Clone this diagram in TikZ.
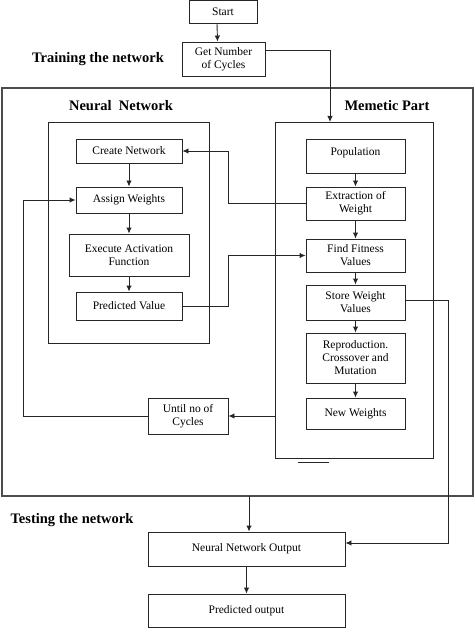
\documentclass[tikz,border=0pt]{standalone}
\usepackage{fontspec}
\setmainfont{Liberation Serif}
\usetikzlibrary{arrows.meta,calc}
\begin{document}
\begin{tikzpicture}[x=1pt,y=-1pt,
  box/.style={draw=black!85,line width=0.9pt,inner sep=0pt,align=center,font=\fontsize{11.5}{13}\selectfont},
  hdr/.style={font=\fontsize{14.5}{16}\bfseries\selectfont},
  arr/.style={draw=black!85,line width=0.9pt,-{Latex[length=6pt,width=5.5pt]}},
  ln/.style={draw=black!85,line width=0.9pt}]
\useasboundingbox (0,0) rectangle (474,628);
% containers
\node[draw=black!70,line width=1.6pt,minimum width=471pt,minimum height=408pt,inner sep=0pt] (outer) at (237.5,292) {};
\node[draw=black!85,line width=0.9pt,minimum width=161pt,minimum height=221pt,inner sep=0pt] (nn) at (128.5,232.5) {};
\node[draw=black!85,line width=0.9pt,minimum width=158pt,minimum height=336pt,inner sep=0pt] (mem) at (354,290) {};
% headers
\node[hdr] (ttn) at (98,59) {Training the network};
\node[hdr] (nnh) at (121,106) {Neural~ Network};
\node[hdr] (mph) at (387,106) {Memetic Part};
\node[hdr] (tst) at (72,520) {Testing the network};
% top
\node[box,minimum width=68pt,minimum height=23pt] (start) at (223,11.5) {Start};
\node[box,minimum width=83pt,minimum height=34pt] (gn) at (223.5,59) {Get Number\\of Cycles};
% neural network
\node[box,minimum width=106pt,minimum height=24pt] (cn) at (129,151) {Create Network};
\node[box,minimum width=106pt,minimum height=26pt] (aw) at (129,200) {Assign Weights};
\node[box,minimum width=120pt,minimum height=42pt] (ea) at (129,255) {Execute Activation\\Function};
\node[box,minimum width=106pt,minimum height=28pt] (pv) at (129,306) {Predicted Value};
% memetic
\node[box,minimum width=99pt,minimum height=34pt,text depth=8pt] (pop) at (355.5,156) {Population};
\node[box,minimum width=99pt,minimum height=33pt] (ew) at (355.5,203.5) {Extraction of\\Weight};
\node[box,minimum width=99pt,minimum height=33pt] (ff) at (355.5,255.5) {Find Fitness\\Values};
\node[box,minimum width=99pt,minimum height=35pt] (sw) at (355.5,302.5) {Store Weight\\Values};
\node[box,minimum width=99pt,minimum height=50pt] (rep) at (355.5,358) {Reproduction.\\Crossover and\\Mutation};
\node[box,minimum width=99pt,minimum height=31pt] (nw) at (355.5,413.5) {New Weights};
% others
\node[box,minimum width=80pt,minimum height=36pt] (until) at (188,416) {Until no of\\Cycles};
\node[box,minimum width=197pt,minimum height=34pt] (nno) at (246.5,549) {Neural Network Output};
\node[box,minimum width=197pt,minimum height=33pt] (po) at (246.5,610.5) {Predicted output};
% coordinates
\coordinate (c1) at (330,122);
\coordinate (c2) at (448,543);
\coordinate (c3) at (249,496);
\coordinate (m1) at (298,462);
\coordinate (m2) at (329,462);
% connectors
\draw[arr] ([xshift=-6pt]start.south) -- ([xshift=-6pt]gn.north);
\draw[arr] ([yshift=9pt]gn.east) -| (c1);
\draw[arr] (cn) -- (aw);
\draw[arr] (aw) -- (ea);
\draw[arr] (ea) -- (pv);
\draw[arr] (pop) -- (ew);
\draw[arr] (ew) -- (ff);
\draw[arr] (ff) -- (sw);
\draw[arr] (sw) -- (rep);
\draw[arr] (rep) -- (nw);
\draw[arr] (ew.west) -| ($(cn.east)+(46,0)$) -- (cn.east);
\draw[arr] (pv.east) -- ++(46,0) |- (ff.west);
\draw[arr] ([yshift=2.5pt]sw.east) -| (c2) -- (c2 -| nno.east);
\draw[arr] (mem.west |- until.east) -- (until.east);
\draw[arr] (until.west) -- ++(-124,0) |- (aw.west);
\draw[arr] (c3) -- (c3 |- nno.north);
\draw[arr] (nno) -- (po);
\draw[ln] (m1) -- (m2);
\end{tikzpicture}
\end{document}
